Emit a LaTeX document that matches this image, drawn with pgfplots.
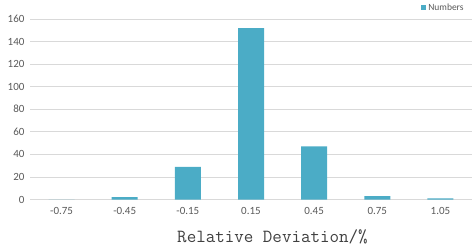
\documentclass[border=0pt]{standalone}
\usepackage{fontspec}
\setmainfont{Carlito}
\usepackage{pgfplots}
\pgfplotsset{compat=1.18}
\definecolor{barc}{HTML}{4BACC6}
\definecolor{tickc}{HTML}{595959}
\definecolor{gridc}{HTML}{D9D9D9}
\begin{document}
\begin{tikzpicture}[x=1pt,y=1pt]
\useasboundingbox (-30,-47.5) rectangle (444,199.5);
\begin{axis}[
  at={(0,0)}, anchor=south west,
  scale only axis, width=442pt, height=180.5pt,
  xmin=-0.5, xmax=6.5, ymin=0, ymax=160,
  xtick={0,...,6},
  xticklabels={-0.75,-0.45,-0.15,0.15,0.45,0.75,1.05},
  ytick={0,20,...,160},
  ymajorgrids, grid style={gridc, line width=0.8pt},
  axis line style={draw=none},
  major tick length=0pt,
  tick label style={font=\fontsize{11}{13}\selectfont, text=tickc},
  /pgf/number format/assume math mode=true,
  yticklabel style={xshift=-2pt},
  xticklabel style={yshift=-4pt},
  legend style={at={(rel axis cs:0.986,1.061)}, anchor=east, draw=none, fill=none,
    font=\fontsize{9.5}{11}\selectfont, text=tickc, inner sep=0pt},
  legend image code/.code={\fill[barc] (0pt,-2.5pt) rectangle (5pt,2.5pt);},
]
\addplot[ybar, bar width=26pt, fill=barc, draw=none] coordinates {
  (0,0) (1,2) (2,29) (3,152) (4,47) (5,3) (6,1)
};
\addlegendentry{Numbers}
\end{axis}
\node[text=black!75, font=\ttfamily\fontsize{18.5}{20}\selectfont] at (242.5,-37.5) {Relative Deviation/\%};
\end{tikzpicture}
\end{document}
